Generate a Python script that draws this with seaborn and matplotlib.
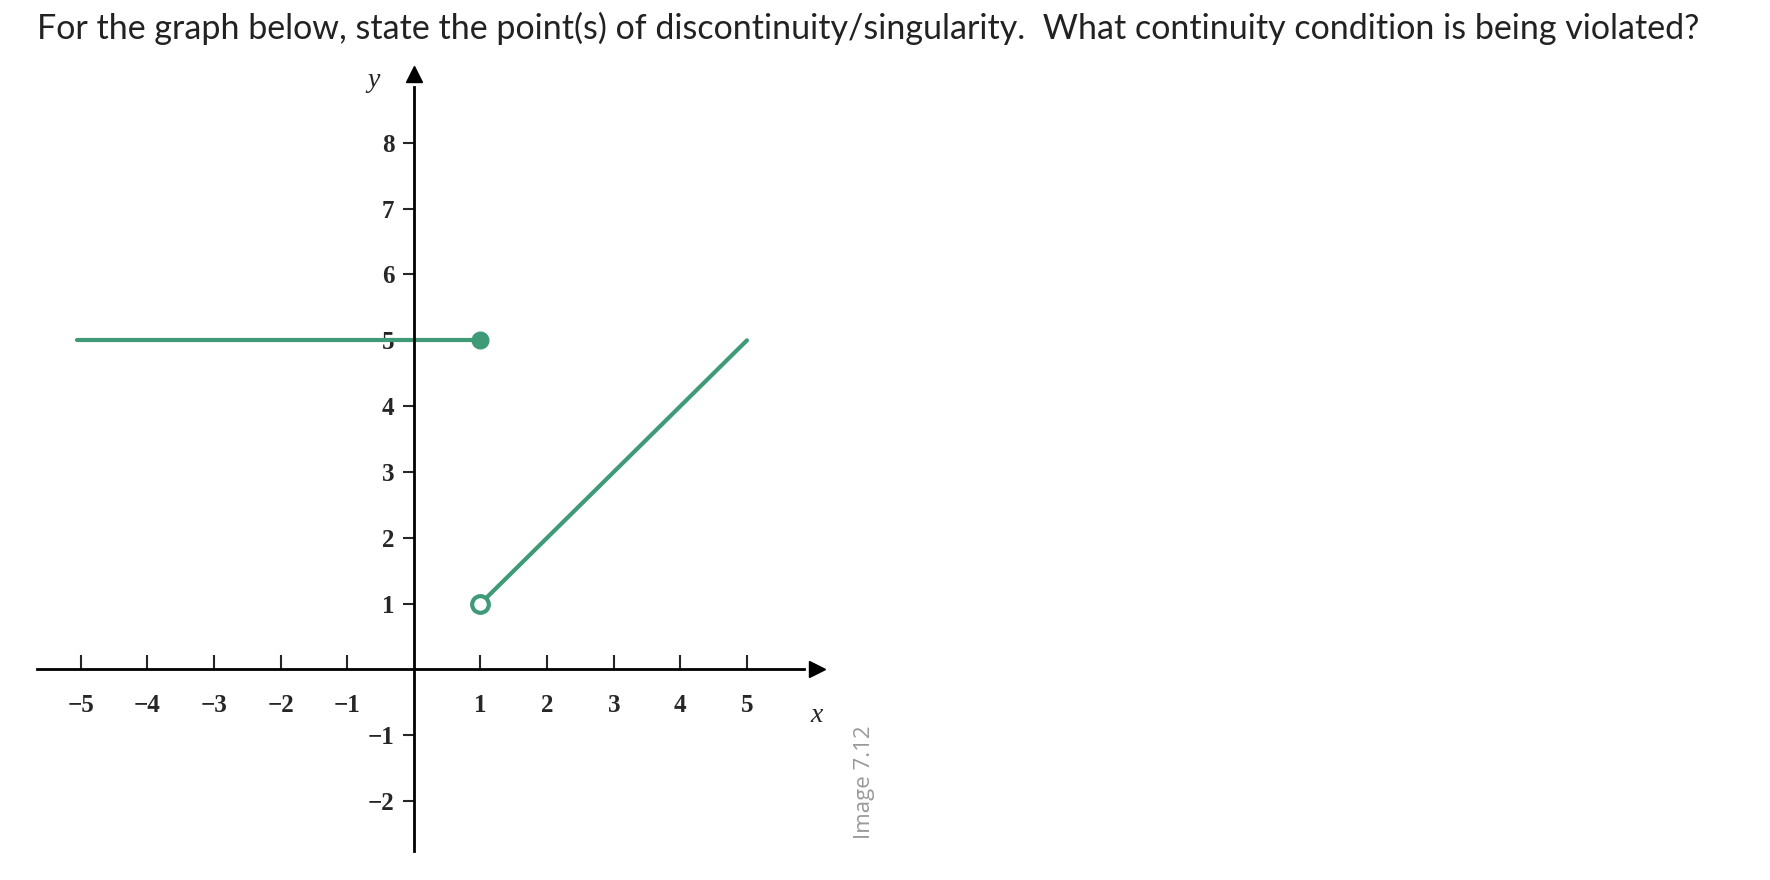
import matplotlib
matplotlib.use("Agg")
import matplotlib.pyplot as plt
import seaborn as sns
import pandas as pd

seg1_x = [-5.05, 1]
seg1_y = [5, 5]
seg2_x = [1, 5]
seg2_y = [1, 5]
closed_pt = (1, 5)
open_pt = (1, 1)
xticks = [-5, -4, -3, -2, -1, 1, 2, 3, 4, 5]
yticks = [-2, -1, 1, 2, 3, 4, 5, 6, 7, 8]
green = "#3f9a78"

sns.set_theme(style="white")
W, H = 1560, 776
fig = plt.figure(figsize=(17.7, 8.8), dpi=100)
ax = fig.add_axes([33/W, 26/H, (720-33)/W, (750-65)/H])
xmin, xmax, ymin, ymax = -5.65, 6.05, -2.75, 9.05
ax.set_xlim(xmin, xmax); ax.set_ylim(ymin, ymax)

d1 = pd.DataFrame({"x": seg1_x, "y": seg1_y})
d2 = pd.DataFrame({"x": seg2_x, "y": seg2_y})
sns.lineplot(data=d1, x="x", y="y", color=green, lw=3, ax=ax, sort=False)
sns.lineplot(data=d2, x="x", y="y", color=green, lw=3, ax=ax, sort=False)
ax.plot(*closed_pt, "o", color=green, ms=12, zorder=5)
ax.plot(*open_pt, "o", mfc="white", mec=green, mew=3, ms=12, zorder=5)

for s in ["top", "right"]:
    ax.spines[s].set_visible(False)
ax.spines["left"].set_position(("data", 0))
ax.spines["bottom"].set_position(("data", 0))
ax.spines["left"].set_bounds(ymin, ymax - 0.2)
ax.spines["bottom"].set_bounds(xmin, xmax - 0.2)
for s in ["left", "bottom"]:
    ax.spines[s].set_color("black"); ax.spines[s].set_linewidth(2)
ax.plot(xmax, 0, ">", color="black", ms=12, clip_on=False)
ax.plot(0, ymax, "^", color="black", ms=12, clip_on=False)

ax.set_xticks(xticks); ax.set_yticks(yticks)
ax.tick_params(axis="x", direction="in", length=10, width=1.5, pad=18, bottom=True, labelsize=18)
ax.tick_params(axis="y", direction="out", length=8, width=1.5, pad=6, left=True, labelsize=18)
for lab in ax.get_xticklabels() + ax.get_yticklabels():
    lab.set_family("Liberation Serif")
    lab.set_fontweight("bold")
ax.set_xlabel(""); ax.set_ylabel("")
ax.text(6.05, -0.8, "x", style="italic", family="Liberation Serif", fontsize=20, ha="center")
ax.text(-0.6, 8.85, "y", style="italic", family="Liberation Serif", fontsize=20, ha="center")

fig.text(33/W, 1-25/H, "For the graph below, state the point(s) of discontinuity/singularity.  What continuity condition is being violated?",
         family="Lato", fontsize=24.5, va="center", ha="left", color="#222222")
fig.text(762/W, 1-690/H, "Image 7.12", rotation=90, family="Open Sans", fontsize=16, color="#999999", va="center", ha="center")
fig.savefig("out.png", dpi=100)
